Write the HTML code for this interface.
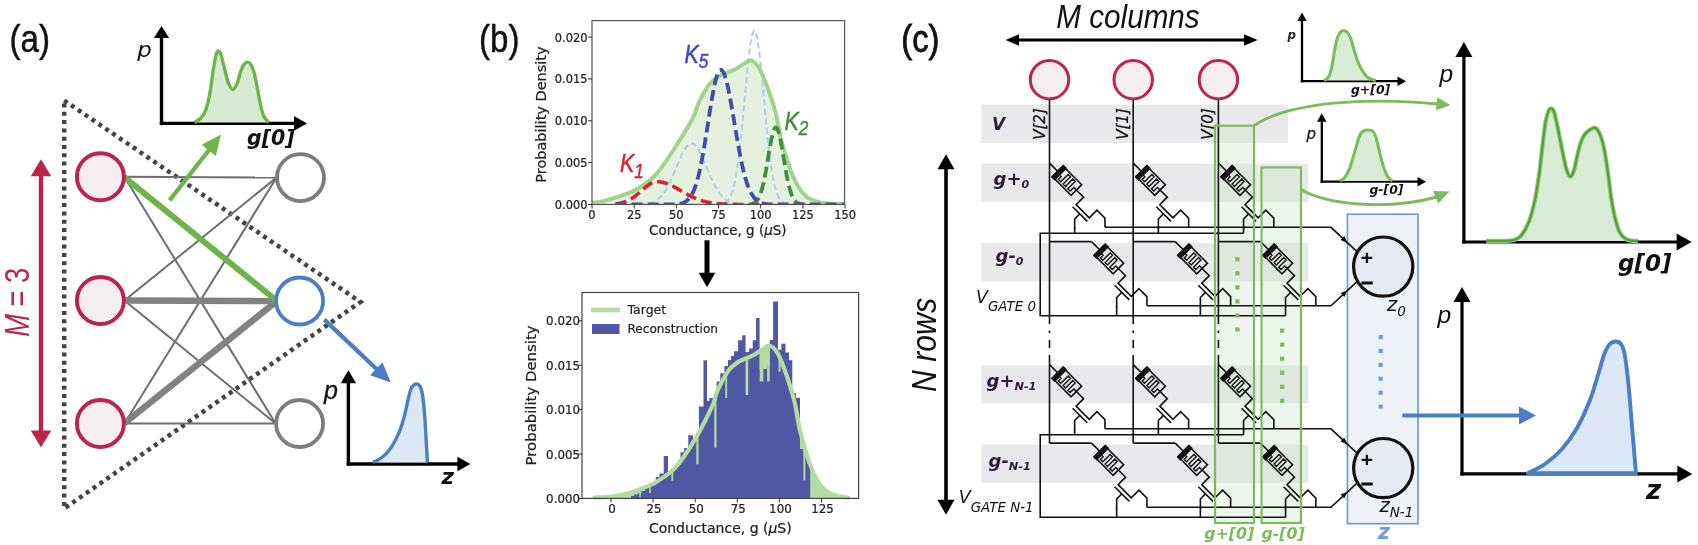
<!DOCTYPE html>
<html><head><meta charset="utf-8"><title>Figure</title>
<style>html,body{margin:0;padding:0;background:#fff;}svg{display:block;filter:blur(0.45px)}</style></head>
<body>
<svg width="1698" height="545" viewBox="0 0 1698 545">
<rect width="1698" height="545" fill="#ffffff"/>
<g id="panelA">
<text transform="translate(9.5,52.4) scale(0.87,1)" font-family="'Liberation Sans',sans-serif" font-size="38" fill="#111" stroke="#111" stroke-width="0.5">(a)</text>
<polygon points="64.2,100.5 360.5,302 64.2,508.5" fill="none" stroke="#444" stroke-width="4.5" stroke-dasharray="4 4.3"/>
<line x1="124.4" y1="176.8" x2="276.5" y2="177.6" stroke="#6e6e6e" stroke-width="2" />
<line x1="124.4" y1="176.8" x2="275.6" y2="301" stroke="#6e6e6e" stroke-width="2" />
<line x1="124.4" y1="176.8" x2="275.6" y2="423.5" stroke="#6e6e6e" stroke-width="2" />
<line x1="124.4" y1="300.5" x2="276.5" y2="177.6" stroke="#6e6e6e" stroke-width="2" />
<line x1="124.4" y1="300.5" x2="275.6" y2="301" stroke="#6e6e6e" stroke-width="2" />
<line x1="124.4" y1="300.5" x2="275.6" y2="423.5" stroke="#6e6e6e" stroke-width="2" />
<line x1="124.4" y1="423.5" x2="276.5" y2="177.6" stroke="#6e6e6e" stroke-width="2" />
<line x1="124.4" y1="423.5" x2="275.6" y2="301" stroke="#6e6e6e" stroke-width="2" />
<line x1="124.4" y1="423.5" x2="275.6" y2="423.5" stroke="#6e6e6e" stroke-width="2" />
<line x1="124" y1="300.5" x2="277" y2="301" stroke="#828282" stroke-width="6.5" />
<line x1="124" y1="423.5" x2="277" y2="301" stroke="#828282" stroke-width="6.5" />
<line x1="124" y1="176.8" x2="277" y2="301" stroke="#6db44c" stroke-width="6" />
<circle cx="100.4" cy="176.8" r="23.5" fill="#f6edf0" stroke="#ba244e" stroke-width="3.9"/>
<circle cx="100.4" cy="300.5" r="23.5" fill="#f6edf0" stroke="#ba244e" stroke-width="3.9"/>
<circle cx="100.4" cy="423.5" r="23.5" fill="#f6edf0" stroke="#ba244e" stroke-width="3.9"/>
<circle cx="300.5" cy="177.6" r="23.5" fill="#fff" stroke="#7d7d7d" stroke-width="3.8"/>
<circle cx="299.6" cy="423.5" r="23.5" fill="#fff" stroke="#7d7d7d" stroke-width="3.8"/>
<circle cx="299.6" cy="301" r="23.5" fill="#fff" stroke="#4a7fc3" stroke-width="3.8"/>
<polygon points="41,159.3 51.25,176.3 30.75,176.3" fill="#ba244e"/><line x1="41" y1="172.9" x2="41" y2="433.8" stroke="#ba244e" stroke-width="4.4" /><polygon points="41,447.4 30.75,430.4 51.25,430.4" fill="#ba244e"/>
<text transform="translate(29.3,302.3) rotate(-90) scale(0.78,1)" text-anchor="middle" font-family="'Liberation Sans',sans-serif" font-size="35" fill="#ba244e"><tspan font-style="italic">M</tspan> = 3</text>
<line x1="169.6" y1="200.4" x2="211.15" y2="147.21" stroke="#6db44c" stroke-width="4.2" /><polygon points="221,134.6 215.78,155.9 201.6,144.82" fill="#6db44c"/>
<line x1="324.3" y1="319.6" x2="379.18" y2="371.51" stroke="#4a7fc3" stroke-width="4.2" /><polygon points="390.8,382.5 370.09,375.3 382.45,362.22" fill="#4a7fc3"/>
<line x1="161.5" y1="125.1" x2="161.5" y2="37" stroke="#000" stroke-width="3.4" />
<polygon points="161.5,26 169.1,38 153.9,38" fill="#000"/>
<line x1="159.8" y1="123.4" x2="296" y2="123.4" stroke="#000" stroke-width="3.4" />
<polygon points="307,123.4 294,130.7 294,116.1" fill="#000"/>
<path d="M194.46,122.51 C195.56,121.74 199.13,120.09 201.06,117.89 C202.98,115.69 204.52,113.49 206.01,109.31 C207.49,105.13 208.76,99.41 209.97,92.81 C211.18,86.21 212.28,75.98 213.27,69.71 C214.26,63.44 215.03,58.32 215.91,55.19 C216.79,52.05 217.67,50.9 218.55,50.9 C219.43,50.9 220.25,52.49 221.19,55.19 C222.12,57.88 222.95,62.45 224.16,67.07 C225.37,71.69 226.96,79.17 228.45,82.91 C229.93,86.65 231.58,89.51 233.07,89.51 C234.55,89.51 236.09,85.93 237.36,82.91 C238.62,79.88 239.56,74.44 240.66,71.36 C241.76,68.28 242.86,65.97 243.96,64.43 C245.06,62.89 246.16,62.17 247.26,62.12 C248.36,62.06 249.46,62.5 250.56,64.1 C251.66,65.69 252.76,67.89 253.86,71.69 C254.96,75.48 256.06,81.37 257.16,86.87 C258.26,92.37 259.36,99.79 260.46,104.69 C261.56,109.59 262.39,113.27 263.76,116.24 C265.14,119.21 267.89,121.47 268.71,122.51 Z" fill="#d7ebd3" stroke="none"/>
<path d="M194.46,122.51 C195.56,121.74 199.13,120.09 201.06,117.89 C202.98,115.69 204.52,113.49 206.01,109.31 C207.49,105.13 208.76,99.41 209.97,92.81 C211.18,86.21 212.28,75.98 213.27,69.71 C214.26,63.44 215.03,58.32 215.91,55.19 C216.79,52.05 217.67,50.9 218.55,50.9 C219.43,50.9 220.25,52.49 221.19,55.19 C222.12,57.88 222.95,62.45 224.16,67.07 C225.37,71.69 226.96,79.17 228.45,82.91 C229.93,86.65 231.58,89.51 233.07,89.51 C234.55,89.51 236.09,85.93 237.36,82.91 C238.62,79.88 239.56,74.44 240.66,71.36 C241.76,68.28 242.86,65.97 243.96,64.43 C245.06,62.89 246.16,62.17 247.26,62.12 C248.36,62.06 249.46,62.5 250.56,64.1 C251.66,65.69 252.76,67.89 253.86,71.69 C254.96,75.48 256.06,81.37 257.16,86.87 C258.26,92.37 259.36,99.79 260.46,104.69 C261.56,109.59 262.39,113.27 263.76,116.24 C265.14,119.21 267.89,121.47 268.71,122.51" fill="none" stroke="#6db44c" stroke-width="3.4" stroke-linejoin="round"/>
<text transform="translate(137.2,56.6) scale(1.12,1)" font-family="'DejaVu Sans',sans-serif" font-style="italic" font-size="20.5" fill="#111">p</text>
<text x="247" y="145" font-family="'DejaVu Sans',sans-serif" font-style="italic" font-weight="bold" font-size="20.5" fill="#111">g[0]</text>
<line x1="348.4" y1="465.7" x2="348.4" y2="382" stroke="#000" stroke-width="3.4" />
<polygon points="348.4,370.2 356.1,383.2 340.7,383.2" fill="#000"/>
<line x1="346.7" y1="464" x2="459" y2="464" stroke="#000" stroke-width="3.4" />
<polygon points="470.4,464 457.4,471.3 457.4,456.7" fill="#000"/>
<path d="M372.94,462.45 C373.86,462 376.61,460.8 378.45,459.7 C380.28,458.6 382.12,457.5 383.95,455.85 C385.79,454.2 387.62,452.27 389.46,449.79 C391.29,447.32 393.13,444.47 394.96,440.98 C396.8,437.5 398.86,433.19 400.47,428.87 C402.07,424.56 403.36,419.84 404.6,415.11 C405.84,410.39 406.89,404.74 407.9,400.52 C408.91,396.3 409.73,392.31 410.65,389.79 C411.57,387.26 412.49,386.35 413.4,385.38 C414.32,384.42 415.29,384.1 416.16,384.01 C417.03,383.92 417.81,384.05 418.63,384.83 C419.46,385.61 420.42,386.76 421.11,388.69 C421.8,390.61 422.26,393.04 422.76,396.39 C423.27,399.74 423.73,404.19 424.14,408.78 C424.55,413.37 424.87,418.18 425.24,423.92 C425.61,429.65 425.97,436.76 426.34,443.19 C426.71,449.61 427.26,459.24 427.44,462.45 Z" fill="#dce8f6" stroke="none"/>
<path d="M372.94,462.45 C373.86,462 376.61,460.8 378.45,459.7 C380.28,458.6 382.12,457.5 383.95,455.85 C385.79,454.2 387.62,452.27 389.46,449.79 C391.29,447.32 393.13,444.47 394.96,440.98 C396.8,437.5 398.86,433.19 400.47,428.87 C402.07,424.56 403.36,419.84 404.6,415.11 C405.84,410.39 406.89,404.74 407.9,400.52 C408.91,396.3 409.73,392.31 410.65,389.79 C411.57,387.26 412.49,386.35 413.4,385.38 C414.32,384.42 415.29,384.1 416.16,384.01 C417.03,383.92 417.81,384.05 418.63,384.83 C419.46,385.61 420.42,386.76 421.11,388.69 C421.8,390.61 422.26,393.04 422.76,396.39 C423.27,399.74 423.73,404.19 424.14,408.78 C424.55,413.37 424.87,418.18 425.24,423.92 C425.61,429.65 425.97,436.76 426.34,443.19 C426.71,449.61 427.26,459.24 427.44,462.45" fill="none" stroke="#4a7fc3" stroke-width="3.4" stroke-linejoin="round"/>
<text x="324" y="399.3" font-family="'Liberation Sans',sans-serif" font-style="italic" font-size="25" fill="#111" stroke="#111" stroke-width="0.3">p</text>
<text x="441.5" y="484.2" font-family="'DejaVu Sans',sans-serif" font-style="italic" font-weight="bold" font-size="21.5" fill="#111">z</text>
</g>
<g id="panelB">
<text transform="translate(479,52.4) scale(0.87,1)" font-family="'Liberation Sans',sans-serif" font-size="38" fill="#111" stroke="#111" stroke-width="0.5">(b)</text>
<clipPath id="clipT"><rect x="592" y="20.6" width="252.6" height="183.9"/></clipPath>
<g clip-path="url(#clipT)">
<path d="M586.94,203.16 C589.27,202.91 595.54,202.77 600.94,201.65 C606.34,200.54 613.2,198.62 619.33,196.46 C625.46,194.31 631.59,192.39 637.72,188.7 C643.85,185.01 649.98,181.04 656.11,174.3 C662.24,167.57 668.36,157.68 674.49,148.29 C680.62,138.9 688.86,125.52 692.88,117.97 C696.9,110.42 695.81,108.66 698.62,102.98 C701.43,97.3 706.07,88.49 709.75,83.87 C713.44,79.25 716.58,77.65 720.72,75.27 C724.85,72.88 730.7,71.47 734.55,69.58 C738.4,67.68 741.07,65.39 743.83,63.88 C746.59,62.38 748.5,59.8 751.08,60.54 C753.67,61.28 756.59,63.79 759.35,68.32 C762.11,72.85 764.86,80.18 767.62,87.74 C770.37,95.3 773.58,104.84 775.88,113.69 C778.19,122.53 779.14,131.76 781.45,140.8 C783.76,149.84 786.99,160.38 789.72,167.92 C792.44,175.47 795.06,181.33 797.81,186.09 C800.57,190.84 803.02,193.87 806.25,196.46 C809.48,199.06 813.28,200.43 817.21,201.65 C821.15,202.88 825.23,203.4 829.87,203.83 C834.51,204.26 842.52,204.18 845.05,204.25 L845.05,204.5 L586.94,204.5 Z" fill="#e3f1de"/>
<path d="M592,204.5 L593.69,204.5 L595.37,204.5 L597.06,204.5 L598.75,204.5 L600.43,204.5 L602.12,204.5 L603.81,204.5 L605.5,204.5 L607.18,204.5 L608.87,204.5 L610.56,204.5 L612.24,204.5 L613.93,204.5 L615.62,204.5 L617.3,204.5 L618.99,204.5 L620.68,204.5 L622.37,204.5 L624.05,204.5 L625.74,204.49 L627.43,204.49 L629.11,204.49 L630.8,204.48 L632.49,204.47 L634.17,204.45 L635.86,204.43 L637.55,204.39 L639.24,204.34 L640.92,204.26 L642.61,204.16 L644.3,204.02 L645.98,203.82 L647.67,203.56 L649.36,203.21 L651.04,202.75 L652.73,202.17 L654.42,201.42 L656.11,200.48 L657.79,199.33 L659.48,197.92 L661.17,196.23 L662.85,194.24 L664.54,191.92 L666.23,189.26 L667.91,186.28 L669.6,182.97 L671.29,179.38 L672.98,175.55 L674.66,171.54 L676.35,167.44 L678.04,163.34 L679.72,159.35 L681.41,155.57 L683.1,152.14 L684.78,149.15 L686.47,146.7 L688.16,144.89 L689.85,143.78 L691.53,143.4 L693.22,143.78 L694.91,144.89 L696.59,146.7 L698.28,149.15 L699.97,152.14 L701.65,155.57 L703.34,159.35 L705.03,163.34 L706.72,167.44 L708.4,171.54 L710.09,175.55 L711.78,179.38 L713.46,182.97 L715.15,186.28 L716.84,189.26 L718.52,191.92 L720.21,194.24 L721.9,196.23 L723.59,197.92 L725.27,199.33 L726.96,200.48 L728.65,201.42 L730.33,202.17 L732.02,202.75 L733.71,203.21 L735.39,203.56 L737.08,203.82 L738.77,204.02 L740.46,204.16 L742.14,204.26 L743.83,204.34 L745.52,204.39 L747.2,204.43 L748.89,204.45 L750.58,204.47 L752.26,204.48 L753.95,204.49 L755.64,204.49 L757.33,204.49 L759.01,204.5 L760.7,204.5 L762.39,204.5 L764.07,204.5 L765.76,204.5 L767.45,204.5 L769.13,204.5 L770.82,204.5 L772.51,204.5 L774.2,204.5 L775.88,204.5 L777.57,204.5 L779.26,204.5 L780.94,204.5 L782.63,204.5 L784.32,204.5 L786,204.5 L787.69,204.5 L789.38,204.5 L791.07,204.5 L792.75,204.5 L794.44,204.5 L796.13,204.5 L797.81,204.5 L799.5,204.5 L801.19,204.5 L802.88,204.5 L804.56,204.5 L806.25,204.5 L807.94,204.5 L809.62,204.5 L811.31,204.5 L813,204.5 L814.68,204.5 L816.37,204.5 L818.06,204.5 L819.75,204.5 L821.43,204.5 L823.12,204.5 L824.81,204.5 L826.49,204.5 L828.18,204.5 L829.87,204.5 L831.55,204.5 L833.24,204.5 L834.93,204.5 L836.62,204.5 L838.3,204.5 L839.99,204.5 L841.68,204.5 L843.36,204.5 L845.05,204.5" fill="none" stroke="#a9cfe9" stroke-width="2.0" stroke-dasharray="6 3.5"/>
<path d="M592,204.5 L593.69,204.5 L595.37,204.5 L597.06,204.5 L598.75,204.5 L600.43,204.5 L602.12,204.5 L603.81,204.5 L605.5,204.5 L607.18,204.5 L608.87,204.5 L610.56,204.5 L612.24,204.5 L613.93,204.5 L615.62,204.5 L617.3,204.5 L618.99,204.5 L620.68,204.5 L622.37,204.5 L624.05,204.5 L625.74,204.5 L627.43,204.5 L629.11,204.5 L630.8,204.5 L632.49,204.5 L634.17,204.5 L635.86,204.5 L637.55,204.5 L639.24,204.5 L640.92,204.5 L642.61,204.5 L644.3,204.5 L645.98,204.5 L647.67,204.5 L649.36,204.5 L651.04,204.5 L652.73,204.5 L654.42,204.5 L656.11,204.5 L657.79,204.5 L659.48,204.5 L661.17,204.5 L662.85,204.5 L664.54,204.5 L666.23,204.5 L667.91,204.5 L669.6,204.5 L671.29,204.5 L672.98,204.5 L674.66,204.5 L676.35,204.5 L678.04,204.5 L679.72,204.5 L681.41,204.5 L683.1,204.5 L684.78,204.5 L686.47,204.5 L688.16,204.5 L689.85,204.5 L691.53,204.5 L693.22,204.5 L694.91,204.5 L696.59,204.5 L698.28,204.5 L699.97,204.5 L701.65,204.5 L703.34,204.5 L705.03,204.5 L706.72,204.5 L708.4,204.5 L710.09,204.5 L711.78,204.49 L713.46,204.48 L715.15,204.46 L716.84,204.41 L718.52,204.33 L720.21,204.17 L721.9,203.9 L723.59,203.44 L725.27,202.67 L726.96,201.43 L728.65,199.53 L730.33,196.68 L732.02,192.58 L733.71,186.88 L735.39,179.24 L737.08,169.39 L738.77,157.17 L740.46,142.64 L742.14,126.1 L743.83,108.14 L745.52,89.67 L747.2,71.79 L748.89,55.79 L750.58,42.9 L752.26,34.22 L753.95,30.51 L755.64,32.11 L757.33,38.87 L759.01,50.19 L760.7,65.09 L762.39,82.38 L764.07,100.76 L765.76,119.04 L767.45,136.24 L769.13,151.63 L770.82,164.79 L772.51,175.58 L774.2,184.07 L775.88,190.51 L777.57,195.21 L779.26,198.52 L780.94,200.76 L782.63,202.24 L784.32,203.17 L786,203.74 L787.69,204.08 L789.38,204.28 L791.07,204.38 L792.75,204.44 L794.44,204.47 L796.13,204.49 L797.81,204.49 L799.5,204.5 L801.19,204.5 L802.88,204.5 L804.56,204.5 L806.25,204.5 L807.94,204.5 L809.62,204.5 L811.31,204.5 L813,204.5 L814.68,204.5 L816.37,204.5 L818.06,204.5 L819.75,204.5 L821.43,204.5 L823.12,204.5 L824.81,204.5 L826.49,204.5 L828.18,204.5 L829.87,204.5 L831.55,204.5 L833.24,204.5 L834.93,204.5 L836.62,204.5 L838.3,204.5 L839.99,204.5 L841.68,204.5 L843.36,204.5 L845.05,204.5" fill="none" stroke="#a9cfe9" stroke-width="2.0" stroke-dasharray="6 3.5"/>
<path d="M586.94,203.16 C589.27,202.91 595.54,202.77 600.94,201.65 C606.34,200.54 613.2,198.62 619.33,196.46 C625.46,194.31 631.59,192.39 637.72,188.7 C643.85,185.01 649.98,181.04 656.11,174.3 C662.24,167.57 668.36,157.68 674.49,148.29 C680.62,138.9 688.86,125.52 692.88,117.97 C696.9,110.42 695.81,108.66 698.62,102.98 C701.43,97.3 706.07,88.49 709.75,83.87 C713.44,79.25 716.58,77.65 720.72,75.27 C724.85,72.88 730.7,71.47 734.55,69.58 C738.4,67.68 741.07,65.39 743.83,63.88 C746.59,62.38 748.5,59.8 751.08,60.54 C753.67,61.28 756.59,63.79 759.35,68.32 C762.11,72.85 764.86,80.18 767.62,87.74 C770.37,95.3 773.58,104.84 775.88,113.69 C778.19,122.53 779.14,131.76 781.45,140.8 C783.76,149.84 786.99,160.38 789.72,167.92 C792.44,175.47 795.06,181.33 797.81,186.09 C800.57,190.84 803.02,193.87 806.25,196.46 C809.48,199.06 813.28,200.43 817.21,201.65 C821.15,202.88 825.23,203.4 829.87,203.83 C834.51,204.26 842.52,204.18 845.05,204.25" fill="none" stroke="#a3d38b" stroke-width="4"/>
<path d="M750.58,204.12 L750.94,204.06 L751.3,203.99 L751.66,203.91 L752.02,203.82 L752.38,203.72 L752.74,203.6 L753.1,203.47 L753.46,203.32 L753.82,203.15 L754.18,202.96 L754.54,202.75 L754.9,202.51 L755.26,202.25 L755.62,201.96 L755.98,201.63 L756.34,201.27 L756.7,200.88 L757.06,200.44 L757.42,199.96 L757.78,199.44 L758.14,198.87 L758.5,198.24 L758.86,197.56 L759.22,196.83 L759.58,196.04 L759.94,195.18 L760.3,194.26 L760.66,193.27 L761.01,192.21 L761.37,191.09 L761.73,189.89 L762.09,188.62 L762.45,187.27 L762.81,185.85 L763.17,184.36 L763.53,182.79 L763.89,181.15 L764.25,179.45 L764.61,177.67 L764.97,175.83 L765.33,173.94 L765.69,171.98 L766.05,169.98 L766.41,167.93 L766.77,165.84 L767.13,163.72 L767.49,161.58 L767.85,159.42 L768.21,157.25 L768.57,155.09 L768.93,152.94 L769.29,150.81 L769.65,148.71 L770.01,146.66 L770.37,144.66 L770.73,142.72 L771.09,140.86 L771.45,139.08 L771.81,137.4 L772.17,135.82 L772.53,134.35 L772.89,133.01 L773.25,131.8 L773.61,130.73 L773.97,129.8 L774.33,129.02 L774.69,128.4 L775.05,127.94 L775.41,127.64 L775.77,127.5 L776.13,127.54 L776.49,127.73 L776.85,128.09 L777.21,128.61 L777.57,129.29 L777.93,130.13 L778.29,131.11 L778.65,132.24 L779.01,133.5 L779.37,134.89 L779.73,136.4 L780.09,138.02 L780.45,139.74 L780.81,141.55 L781.17,143.44 L781.53,145.4 L781.89,147.42 L782.25,149.5 L782.61,151.61 L782.97,153.74 L783.33,155.9 L783.69,158.07 L784.05,160.23 L784.41,162.38 L784.77,164.52 L785.13,166.63 L785.49,168.7 L785.85,170.73 L786.21,172.72 L786.57,174.65 L786.93,176.53 L787.29,178.34 L787.65,180.09 L788.01,181.78 L788.37,183.39 L788.73,184.93 L789.09,186.39 L789.45,187.78 L789.81,189.1 L790.17,190.35 L790.53,191.52 L790.89,192.62 L791.25,193.65 L791.61,194.61 L791.97,195.51 L792.33,196.34 L792.69,197.11 L793.05,197.83 L793.41,198.48 L793.77,199.09 L794.13,199.64 L794.48,200.15 L794.84,200.61 L795.2,201.03 L795.56,201.41 L795.92,201.76 L796.28,202.07 L796.64,202.35 L797,202.6 L797.36,202.83 L797.72,203.03 L798.08,203.21 L798.44,203.37 L798.8,203.52 L799.16,203.64 L799.52,203.76 L799.88,203.86 L800.24,203.94 L800.6,204.02 L800.96,204.08 L801.32,204.14 L801.68,204.19 L802.04,204.24 L802.4,204.28 L802.76,204.31 L803.12,204.34 L803.48,204.36 L803.84,204.38 L804.2,204.4 L804.56,204.42" fill="none" stroke="#3f8f3f" stroke-width="3.8" stroke-dasharray="11 5"/>
<path d="M615.62,203.83 L616.59,203.71 L617.55,203.58 L618.52,203.42 L619.49,203.25 L620.45,203.05 L621.42,202.83 L622.39,202.58 L623.36,202.3 L624.32,202 L625.29,201.65 L626.26,201.28 L627.22,200.87 L628.19,200.42 L629.16,199.94 L630.13,199.41 L631.09,198.85 L632.06,198.25 L633.03,197.61 L634,196.94 L634.96,196.23 L635.93,195.49 L636.9,194.72 L637.86,193.92 L638.83,193.1 L639.8,192.27 L640.77,191.42 L641.73,190.57 L642.7,189.72 L643.67,188.88 L644.63,188.05 L645.6,187.25 L646.57,186.47 L647.54,185.73 L648.5,185.04 L649.47,184.39 L650.44,183.8 L651.4,183.28 L652.37,182.82 L653.34,182.44 L654.31,182.14 L655.27,181.92 L656.24,181.78 L657.21,181.73 L658.18,181.75 L659.14,181.8 L660.11,181.9 L661.08,182.02 L662.04,182.19 L663.01,182.39 L663.98,182.63 L664.95,182.9 L665.91,183.2 L666.88,183.54 L667.85,183.9 L668.81,184.29 L669.78,184.71 L670.75,185.15 L671.72,185.61 L672.68,186.09 L673.65,186.59 L674.62,187.11 L675.59,187.64 L676.55,188.18 L677.52,188.73 L678.49,189.28 L679.45,189.84 L680.42,190.41 L681.39,190.97 L682.36,191.54 L683.32,192.1 L684.29,192.66 L685.26,193.21 L686.22,193.75 L687.19,194.29 L688.16,194.81 L689.13,195.32 L690.09,195.82 L691.06,196.31 L692.03,196.78 L693,197.24 L693.96,197.68 L694.93,198.11 L695.9,198.52 L696.86,198.91 L697.83,199.28 L698.8,199.64 L699.77,199.98 L700.73,200.31 L701.7,200.61 L702.67,200.91 L703.63,201.18 L704.6,201.44 L705.57,201.68 L706.54,201.91 L707.5,202.13 L708.47,202.32 L709.44,202.51 L710.4,202.68 L711.37,202.85 L712.34,203 L713.31,203.13 L714.27,203.26 L715.24,203.38 L716.21,203.49 L717.18,203.59 L718.14,203.68 L719.11,203.76 L720.08,203.84 L721.04,203.9 L722.01,203.97 L722.98,204.02 L723.95,204.08 L724.91,204.12 L725.88,204.16 L726.85,204.2 L727.81,204.24 L728.78,204.27 L729.75,204.29 L730.72,204.32 L731.68,204.34 L732.65,204.36 L733.62,204.38 L734.59,204.39 L735.55,204.41 L736.52,204.42 L737.49,204.43 L738.45,204.44 L739.42,204.45 L740.39,204.45 L741.36,204.46 L742.32,204.47 L743.29,204.47 L744.26,204.47 L745.22,204.48 L746.19,204.48 L747.16,204.48 L748.13,204.49 L749.09,204.49 L750.06,204.49 L751.03,204.49 L752,204.49 L752.96,204.49 L753.93,204.49 L754.9,204.5 L755.86,204.5 L756.83,204.5 L757.8,204.5 L758.77,204.5 L759.73,204.5 L760.7,204.5" fill="none" stroke="#d8232f" stroke-width="3.6" stroke-dasharray="11 5"/>
<path d="M615.62,204.5 L617.15,204.5 L618.68,204.5 L620.21,204.5 L621.74,204.5 L623.27,204.5 L624.8,204.5 L626.32,204.5 L627.85,204.5 L629.38,204.5 L630.91,204.5 L632.44,204.5 L633.97,204.5 L635.5,204.5 L637.03,204.5 L638.56,204.5 L640.09,204.5 L641.62,204.5 L643.15,204.5 L644.68,204.5 L646.21,204.5 L647.74,204.5 L649.27,204.5 L650.8,204.5 L652.33,204.5 L653.86,204.5 L655.39,204.5 L656.92,204.5 L658.45,204.5 L659.97,204.5 L661.5,204.5 L663.03,204.5 L664.56,204.49 L666.09,204.49 L667.62,204.48 L669.15,204.47 L670.68,204.45 L672.21,204.41 L673.74,204.36 L675.27,204.29 L676.8,204.17 L678.33,204.01 L679.86,203.77 L681.39,203.43 L682.92,202.95 L684.45,202.29 L685.98,201.39 L687.51,200.2 L689.04,198.64 L690.57,196.62 L692.1,194.07 L693.62,190.89 L695.15,187 L696.68,182.32 L698.21,176.79 L699.74,170.4 L701.27,163.13 L702.8,155.05 L704.33,146.25 L705.86,136.87 L707.39,127.12 L708.92,117.25 L710.45,107.55 L711.98,98.34 L713.51,89.93 L715.04,82.66 L716.57,76.8 L718.1,72.6 L719.63,70.24 L721.16,69.81 L722.69,71.13 L724.22,74.09 L725.75,78.56 L727.27,84.4 L728.8,91.39 L730.33,99.3 L731.86,107.87 L733.39,116.86 L734.92,125.99 L736.45,135.05 L737.98,143.83 L739.51,152.16 L741.04,159.91 L742.57,166.98 L744.1,173.33 L745.63,178.92 L747.16,183.77 L748.69,187.91 L750.22,191.39 L751.75,194.27 L753.28,196.62 L754.81,198.5 L756.34,199.99 L757.87,201.15 L759.4,202.05 L760.92,202.72 L762.45,203.23 L763.98,203.6 L765.51,203.87 L767.04,204.07 L768.57,204.21 L770.1,204.3 L771.63,204.37 L773.16,204.41 L774.69,204.44 L776.22,204.46 L777.75,204.48 L779.28,204.49 L780.81,204.49 L782.34,204.49 L783.87,204.5 L785.4,204.5 L786.93,204.5 L788.46,204.5 L789.99,204.5 L791.52,204.5 L793.05,204.5 L794.57,204.5 L796.1,204.5 L797.63,204.5 L799.16,204.5 L800.69,204.5 L802.22,204.5 L803.75,204.5 L805.28,204.5 L806.81,204.5 L808.34,204.5 L809.87,204.5 L811.4,204.5 L812.93,204.5 L814.46,204.5 L815.99,204.5 L817.52,204.5 L819.05,204.5 L820.58,204.5 L822.11,204.5 L823.64,204.5 L825.17,204.5 L826.7,204.5 L828.22,204.5 L829.75,204.5 L831.28,204.5 L832.81,204.5 L834.34,204.5 L835.87,204.5 L837.4,204.5 L838.93,204.5 L840.46,204.5 L841.99,204.5 L843.52,204.5 L845.05,204.5" fill="none" stroke="#3e4cb0" stroke-width="3.8" stroke-dasharray="11 5"/>
</g>
<rect x="592" y="20.6" width="252.6" height="183.9" fill="none" stroke="#555" stroke-width="1.2"/>
<line x1="588" y1="204.5" x2="592" y2="204.5" stroke="#333" stroke-width="1" />
<text transform="translate(587.5,209) scale(0.93,1)" text-anchor="end" font-family="'DejaVu Sans',sans-serif" font-size="12.3" fill="#222" stroke="#222" stroke-width="0.25">0.000</text>
<line x1="588" y1="162.65" x2="592" y2="162.65" stroke="#333" stroke-width="1" />
<text transform="translate(587.5,167.15) scale(0.93,1)" text-anchor="end" font-family="'DejaVu Sans',sans-serif" font-size="12.3" fill="#222" stroke="#222" stroke-width="0.25">0.005</text>
<line x1="588" y1="120.8" x2="592" y2="120.8" stroke="#333" stroke-width="1" />
<text transform="translate(587.5,125.3) scale(0.93,1)" text-anchor="end" font-family="'DejaVu Sans',sans-serif" font-size="12.3" fill="#222" stroke="#222" stroke-width="0.25">0.010</text>
<line x1="588" y1="78.95" x2="592" y2="78.95" stroke="#333" stroke-width="1" />
<text transform="translate(587.5,83.45) scale(0.93,1)" text-anchor="end" font-family="'DejaVu Sans',sans-serif" font-size="12.3" fill="#222" stroke="#222" stroke-width="0.25">0.015</text>
<line x1="588" y1="37.1" x2="592" y2="37.1" stroke="#333" stroke-width="1" />
<text transform="translate(587.5,41.6) scale(0.93,1)" text-anchor="end" font-family="'DejaVu Sans',sans-serif" font-size="12.3" fill="#222" stroke="#222" stroke-width="0.25">0.020</text>
<line x1="592" y1="204.5" x2="592" y2="208.5" stroke="#333" stroke-width="1" />
<text transform="translate(592,218.7) scale(0.93,1)" text-anchor="middle" font-family="'DejaVu Sans',sans-serif" font-size="12.3" fill="#222" stroke="#222" stroke-width="0.25">0</text>
<line x1="634.17" y1="204.5" x2="634.17" y2="208.5" stroke="#333" stroke-width="1" />
<text transform="translate(634.17,218.7) scale(0.93,1)" text-anchor="middle" font-family="'DejaVu Sans',sans-serif" font-size="12.3" fill="#222" stroke="#222" stroke-width="0.25">25</text>
<line x1="676.35" y1="204.5" x2="676.35" y2="208.5" stroke="#333" stroke-width="1" />
<text transform="translate(676.35,218.7) scale(0.93,1)" text-anchor="middle" font-family="'DejaVu Sans',sans-serif" font-size="12.3" fill="#222" stroke="#222" stroke-width="0.25">50</text>
<line x1="718.52" y1="204.5" x2="718.52" y2="208.5" stroke="#333" stroke-width="1" />
<text transform="translate(718.52,218.7) scale(0.93,1)" text-anchor="middle" font-family="'DejaVu Sans',sans-serif" font-size="12.3" fill="#222" stroke="#222" stroke-width="0.25">75</text>
<line x1="760.7" y1="204.5" x2="760.7" y2="208.5" stroke="#333" stroke-width="1" />
<text transform="translate(760.7,218.7) scale(0.93,1)" text-anchor="middle" font-family="'DejaVu Sans',sans-serif" font-size="12.3" fill="#222" stroke="#222" stroke-width="0.25">100</text>
<line x1="802.88" y1="204.5" x2="802.88" y2="208.5" stroke="#333" stroke-width="1" />
<text transform="translate(802.88,218.7) scale(0.93,1)" text-anchor="middle" font-family="'DejaVu Sans',sans-serif" font-size="12.3" fill="#222" stroke="#222" stroke-width="0.25">125</text>
<line x1="845.05" y1="204.5" x2="845.05" y2="208.5" stroke="#333" stroke-width="1" />
<text transform="translate(845.05,218.7) scale(0.93,1)" text-anchor="middle" font-family="'DejaVu Sans',sans-serif" font-size="12.3" fill="#222" stroke="#222" stroke-width="0.25">150</text>
<text transform="translate(717.8,234.5) scale(0.93,1)" text-anchor="middle" font-family="'DejaVu Sans',sans-serif" font-size="14.5" fill="#222" stroke="#222" stroke-width="0.25">Conductance, g (<tspan font-style="italic">μ</tspan>S)</text>
<text transform="translate(546,114.55) scale(0.93,1) rotate(-90)" text-anchor="middle" font-family="'DejaVu Sans',sans-serif" font-size="14.5" fill="#222" stroke="#222" stroke-width="0.25">Probability Density</text>
<text x="620" y="172.5" font-family="'Liberation Sans',sans-serif" font-style="italic" font-size="25" fill="#d8232f" stroke="#d8232f" stroke-width="0.5" transform="translate(620,0) scale(0.86,1) translate(-620,0)">K<tspan font-size="20" dy="5.5">1</tspan></text>
<text x="684.5" y="62.8" font-family="'Liberation Sans',sans-serif" font-style="italic" font-size="25" fill="#3e4cb0" stroke="#3e4cb0" stroke-width="0.5" transform="translate(684.5,0) scale(0.86,1) translate(-684.5,0)">K<tspan font-size="20" dy="5.5">5</tspan></text>
<text x="784.5" y="129.6" font-family="'Liberation Sans',sans-serif" font-style="italic" font-size="25" fill="#3f8f3f" stroke="#3f8f3f" stroke-width="0.5" transform="translate(784.5,0) scale(0.86,1) translate(-784.5,0)">K<tspan font-size="20" dy="5.5">2</tspan></text>
<line x1="707" y1="240.3" x2="707" y2="276" stroke="#000" stroke-width="5" />
<polygon points="707,287.2 698.7,272.7 715.3,272.7" fill="#000"/>
<path d="M594.16,497.51 C596.12,497.42 601.65,497.33 605.95,496.98 C610.24,496.62 614.54,496.56 619.93,495.38 C625.31,494.2 632.16,492.15 638.28,489.88 C644.4,487.6 650.52,485.36 656.64,481.71 C662.75,478.05 668.87,474.53 674.99,467.94 C681.11,461.36 687.23,452.3 693.35,442.19 C699.47,432.08 707.69,415.83 711.7,407.29 C715.72,398.75 714.62,397.09 717.43,390.95 C720.24,384.81 724.87,375.38 728.54,370.44 C732.22,365.5 735.36,363.82 739.49,361.29 C743.62,358.76 749.45,357.27 753.3,355.25 C757.14,353.24 759.81,350.81 762.56,349.22 C765.31,347.62 767.22,344.88 769.8,345.66 C772.38,346.45 775.3,349.11 778.05,353.92 C780.8,358.73 783.55,366.5 786.3,374.52 C789.05,382.55 792.25,392.67 794.56,402.05 C796.86,411.44 797.81,421.23 800.11,430.82 C802.41,440.41 805.64,451.59 808.36,459.59 C811.09,467.6 813.7,473.82 816.45,478.86 C819.2,483.91 821.64,487.12 824.87,489.88 C828.1,492.63 831.88,494.08 835.81,495.38 C839.74,496.68 846.34,497.3 848.44,497.69 L848.44,498.4 L594.16,498.4 Z" fill="#b4dba0"/>
<path d="M631,498.4 L631,496 L634,496 L634,494.5 L638,494.5 L638,493 L641.5,493 L641.5,491 L645,491 L645,488 L648.5,488 L648.5,486 L652,486 L652,482 L655.8,482 L655.8,477 L659.4,477 L659.4,473.4 L663.7,473.4 L663.7,456 L668,456 L668,474 L671.5,474 L671.5,470 L675,470 L675,466 L678,466 L678,460 L680.5,460 L680.5,452.3 L684.2,452.3 L684.2,448 L688.3,448 L688.3,435.2 L693,435.2 L693,440 L696,440 L696,436 L698.9,436 L698.9,406.4 L703.5,406.4 L703.5,360.2 L707,360.2 L707,401 L709.3,401 L709.3,398 L713,398 L713,398 L716.7,398 L716.7,381.4 L720.3,381.4 L720.3,373.2 L724.4,373.2 L724.4,366 L728,366 L728,360 L731,360 L731,356 L734,356 L734,351.2 L738.1,351.2 L738.1,340.2 L742.3,340.2 L742.3,335.2 L745.6,335.2 L745.6,352 L749.1,352 L749.1,348.4 L752.7,348.4 L752.7,340.2 L756,340.2 L756,318.1 L759.6,318.1 L759.6,369 L763.7,369 L763.7,369 L767,369 L767,366 L769.8,366 L769.8,340 L773.1,340 L773.1,301.6 L778,301.6 L778,349.8 L781.3,349.8 L781.3,343.7 L785.5,343.7 L785.5,352.5 L789,352.5 L789,360.2 L792.3,360.2 L792.3,393 L796,393 L796,397.8 L800,397.8 L800,449 L803.5,449 L803.5,455 L807,455 L807,463.8 L810.2,463.8 L810.2,498.4 Z" fill="#5058a6"/>
<rect x="671.4" y="469.96" width="1.8" height="10.74" fill="#b4dba0"/>
<rect x="696.3" y="434.49" width="2.2" height="29.71" fill="#b4dba0"/>
<rect x="714.3" y="396.74" width="2.2" height="50.96" fill="#b4dba0"/>
<rect x="745.6" y="358.05" width="2.6" height="36.95" fill="#b4dba0"/>
<rect x="759.7" y="349.91" width="3.6" height="31.49" fill="#b4dba0"/>
<rect x="767.1" y="346.35" width="2.6" height="35.05" fill="#b4dba0"/>
<rect x="778.6" y="357.79" width="2" height="14.01" fill="#b4dba0"/>
<rect x="803.4" y="445.77" width="2" height="34.53" fill="#b4dba0"/>
<rect x="639.2" y="489.11" width="1.6" height="7.89" fill="#b4dba0"/>
<rect x="649.2" y="484.66" width="1.6" height="8.34" fill="#b4dba0"/>
<rect x="725.3" y="374.76" width="1.8" height="23.24" fill="#b4dba0"/>
<rect x="789.7" y="388.52" width="1.6" height="-16.52" fill="#b4dba0"/>
<path d="M594.16,497.51 C596.12,497.42 601.65,497.33 605.95,496.98 C610.24,496.62 614.54,496.56 619.93,495.38 C625.31,494.2 632.16,492.15 638.28,489.88 C644.4,487.6 650.52,485.36 656.64,481.71 C662.75,478.05 668.87,474.53 674.99,467.94 C681.11,461.36 687.23,452.3 693.35,442.19 C699.47,432.08 707.69,415.83 711.7,407.29 C715.72,398.75 714.62,397.09 717.43,390.95 C720.24,384.81 724.87,375.38 728.54,370.44 C732.22,365.5 735.36,363.82 739.49,361.29 C743.62,358.76 749.45,357.27 753.3,355.25 C757.14,353.24 759.81,350.81 762.56,349.22 C765.31,347.62 767.22,344.88 769.8,345.66 C772.38,346.45 775.3,349.11 778.05,353.92 C780.8,358.73 783.55,366.5 786.3,374.52 C789.05,382.55 792.25,392.67 794.56,402.05 C796.86,411.44 797.81,421.23 800.11,430.82 C802.41,440.41 805.64,451.59 808.36,459.59 C811.09,467.6 813.7,473.82 816.45,478.86 C819.2,483.91 821.64,487.12 824.87,489.88 C828.1,492.63 831.88,494.08 835.81,495.38 C839.74,496.68 846.34,497.3 848.44,497.69" fill="none" stroke="#b4dba0" stroke-width="4.2" stroke-linecap="round"/>
<rect x="582" y="292.5" width="276.6" height="205.9" fill="none" stroke="#444" stroke-width="1.2"/>
<line x1="578" y1="498.4" x2="582" y2="498.4" stroke="#333" stroke-width="1" />
<text transform="translate(580,502.9) scale(0.94,1)" text-anchor="end" font-family="'DejaVu Sans',sans-serif" font-size="12.6" fill="#222" stroke="#222" stroke-width="0.25">0.000</text>
<line x1="578" y1="454" x2="582" y2="454" stroke="#333" stroke-width="1" />
<text transform="translate(580,458.5) scale(0.94,1)" text-anchor="end" font-family="'DejaVu Sans',sans-serif" font-size="12.6" fill="#222" stroke="#222" stroke-width="0.25">0.005</text>
<line x1="578" y1="409.6" x2="582" y2="409.6" stroke="#333" stroke-width="1" />
<text transform="translate(580,414.1) scale(0.94,1)" text-anchor="end" font-family="'DejaVu Sans',sans-serif" font-size="12.6" fill="#222" stroke="#222" stroke-width="0.25">0.010</text>
<line x1="578" y1="365.2" x2="582" y2="365.2" stroke="#333" stroke-width="1" />
<text transform="translate(580,369.7) scale(0.94,1)" text-anchor="end" font-family="'DejaVu Sans',sans-serif" font-size="12.6" fill="#222" stroke="#222" stroke-width="0.25">0.015</text>
<line x1="578" y1="320.8" x2="582" y2="320.8" stroke="#333" stroke-width="1" />
<text transform="translate(580,325.3) scale(0.94,1)" text-anchor="end" font-family="'DejaVu Sans',sans-serif" font-size="12.6" fill="#222" stroke="#222" stroke-width="0.25">0.020</text>
<line x1="611" y1="498.4" x2="611" y2="502.4" stroke="#333" stroke-width="1" />
<text transform="translate(612,512.6) scale(0.94,1)" text-anchor="middle" font-family="'DejaVu Sans',sans-serif" font-size="12.6" fill="#222" stroke="#222" stroke-width="0.25">0</text>
<line x1="653.1" y1="498.4" x2="653.1" y2="502.4" stroke="#333" stroke-width="1" />
<text transform="translate(654.1,512.6) scale(0.94,1)" text-anchor="middle" font-family="'DejaVu Sans',sans-serif" font-size="12.6" fill="#222" stroke="#222" stroke-width="0.25">25</text>
<line x1="695.2" y1="498.4" x2="695.2" y2="502.4" stroke="#333" stroke-width="1" />
<text transform="translate(696.2,512.6) scale(0.94,1)" text-anchor="middle" font-family="'DejaVu Sans',sans-serif" font-size="12.6" fill="#222" stroke="#222" stroke-width="0.25">50</text>
<line x1="737.3" y1="498.4" x2="737.3" y2="502.4" stroke="#333" stroke-width="1" />
<text transform="translate(738.3,512.6) scale(0.94,1)" text-anchor="middle" font-family="'DejaVu Sans',sans-serif" font-size="12.6" fill="#222" stroke="#222" stroke-width="0.25">75</text>
<line x1="779.4" y1="498.4" x2="779.4" y2="502.4" stroke="#333" stroke-width="1" />
<text transform="translate(780.4,512.6) scale(0.94,1)" text-anchor="middle" font-family="'DejaVu Sans',sans-serif" font-size="12.6" fill="#222" stroke="#222" stroke-width="0.25">100</text>
<line x1="821.5" y1="498.4" x2="821.5" y2="502.4" stroke="#333" stroke-width="1" />
<text transform="translate(822.5,512.6) scale(0.94,1)" text-anchor="middle" font-family="'DejaVu Sans',sans-serif" font-size="12.6" fill="#222" stroke="#222" stroke-width="0.25">125</text>
<text transform="translate(720.3,532.8) scale(0.94,1)" text-anchor="middle" font-family="'DejaVu Sans',sans-serif" font-size="14.9" fill="#222" stroke="#222" stroke-width="0.25">Conductance, g (<tspan font-style="italic">μ</tspan>S)</text>
<text transform="translate(536,395.45) scale(0.94,1) rotate(-90)" text-anchor="middle" font-family="'DejaVu Sans',sans-serif" font-size="14.9" fill="#222" stroke="#222" stroke-width="0.25">Probability Density</text>
<line x1="591" y1="310" x2="620" y2="310" stroke="#b4dba0" stroke-width="4.6" />
<text x="627.5" y="313.6" font-family="'DejaVu Sans',sans-serif" font-size="12.5" fill="#222" stroke="#222" stroke-width="0.2">Target</text>
<rect x="592" y="324" width="27.5" height="10" fill="#5058a6"/>
<text x="627.5" y="332.6" font-family="'DejaVu Sans',sans-serif" font-size="12.1" fill="#222" stroke="#222" stroke-width="0.2">Reconstruction</text>
</g>
<defs><g id="cell" fill="none" stroke="#111" stroke-width="1.6" stroke-linejoin="miter">
<path d="M0,0 L8.2,8.2"/>
<path d="M13.51,2.9 L32.17,21.57 L21.57,32.17 L2.9,13.51 Z"/>
<path d="M13.86,2.55 L16.55,5.23 L5.23,16.55 L2.55,13.86 Z" fill="#111"/>
<path d="M9.83,11.95 L11.6,13.72 L8.98,16.33 L11.31,18.67 L18.67,11.31 L21,13.65 L13.65,21 L15.98,23.33 L23.33,15.98 L25.67,18.31 L18.31,25.67 L20.65,28 L24.32,24.32 L26.87,26.87" stroke-width="1.4"/>
<path d="M26.87,26.87 L34.08,34.08 L26.59,41.58 L39.74,54.73 L47.45,47.02 L55.44,55.01 L55.44,64.2"/>
<path d="M23.12,43.63 L37.83,58.34"/>
<path d="M30.26,50.77 L25.17,55.86 L25.17,66"/>
</g></defs>
<g id="panelC">
<text transform="translate(901.3,51.6) scale(0.86,1)" font-family="'Liberation Sans',sans-serif" font-size="38" fill="#111" stroke="#111" stroke-width="0.9">(c)</text>
<text x="1128" y="27.5" text-anchor="middle" font-family="'Liberation Sans',sans-serif" font-style="italic" font-size="33.5" fill="#111" transform="translate(1128,0) scale(0.885,1) translate(-1128,0)">M columns</text>
<polygon points="1005.5,40 1019,34.25 1019,45.75" fill="#000"/><line x1="1016.3" y1="40" x2="1246.7" y2="40" stroke="#000" stroke-width="3.2" /><polygon points="1257.5,40 1244,45.75 1244,34.25" fill="#000"/>
<rect x="981.3" y="104.5" width="306.7" height="38.5" fill="#e9e8ea"/>
<rect x="981.5" y="163.6" width="326.5" height="38.4" fill="#e9e8ea"/>
<rect x="981.5" y="242.8" width="326.5" height="38.7" fill="#e9e8ea"/>
<rect x="981.5" y="365.4" width="326.5" height="37.9" fill="#e9e8ea"/>
<rect x="981.5" y="444.5" width="326.5" height="38.5" fill="#e9e8ea"/>
<rect x="1215" y="125.7" width="39" height="397.3" fill="rgba(205,232,205,0.38)"/>
<rect x="1261.5" y="167.4" width="39.5" height="355.6" fill="rgba(205,232,205,0.38)"/>
<rect x="1347.4" y="214.2" width="70.6" height="309.5" fill="#edf2f9" stroke="#6d9ed8" stroke-width="1.7"/>
<polygon points="946,154.2 954.5,169.2 937.5,169.2" fill="#000"/><line x1="946" y1="166.2" x2="946" y2="502.7" stroke="#000" stroke-width="3.6" /><polygon points="946,514.7 937.5,499.7 954.5,499.7" fill="#000"/>
<text transform="translate(936,345) rotate(-90) scale(0.84,1)" text-anchor="middle" font-family="'Liberation Sans',sans-serif" font-style="italic" font-size="36" fill="#111">N rows</text>
<line x1="1049.5" y1="99" x2="1049.5" y2="324" stroke="#111" stroke-width="1.6" />
<line x1="1049.5" y1="330.5" x2="1049.5" y2="333" stroke="#111" stroke-width="1.6" />
<line x1="1049.5" y1="340" x2="1049.5" y2="348" stroke="#111" stroke-width="1.6" />
<line x1="1049.5" y1="355" x2="1049.5" y2="443.1" stroke="#111" stroke-width="1.6" />
<circle cx="1049.5" cy="79.7" r="19.2" fill="#f6edf0" stroke="#bf2350" stroke-width="3"/>
<text transform="translate(1044.5,124) rotate(-90)" text-anchor="middle" font-family="'DejaVu Sans',sans-serif" font-style="italic" font-size="15" fill="#111" stroke="#111" stroke-width="0.3">V[2]</text>
<line x1="1133.2" y1="99" x2="1133.2" y2="324" stroke="#111" stroke-width="1.6" />
<line x1="1133.2" y1="330.5" x2="1133.2" y2="333" stroke="#111" stroke-width="1.6" />
<line x1="1133.2" y1="340" x2="1133.2" y2="348" stroke="#111" stroke-width="1.6" />
<line x1="1133.2" y1="355" x2="1133.2" y2="443.1" stroke="#111" stroke-width="1.6" />
<circle cx="1133.2" cy="79.7" r="19.2" fill="#f6edf0" stroke="#bf2350" stroke-width="3"/>
<text transform="translate(1128.2,124) rotate(-90)" text-anchor="middle" font-family="'DejaVu Sans',sans-serif" font-style="italic" font-size="15" fill="#111" stroke="#111" stroke-width="0.3">V[1]</text>
<line x1="1218.4" y1="99" x2="1218.4" y2="324" stroke="#111" stroke-width="1.6" />
<line x1="1218.4" y1="330.5" x2="1218.4" y2="333" stroke="#111" stroke-width="1.6" />
<line x1="1218.4" y1="340" x2="1218.4" y2="348" stroke="#111" stroke-width="1.6" />
<line x1="1218.4" y1="355" x2="1218.4" y2="443.1" stroke="#111" stroke-width="1.6" />
<circle cx="1218.4" cy="79.7" r="19.2" fill="#f6edf0" stroke="#bf2350" stroke-width="3"/>
<text transform="translate(1213.4,124) rotate(-90)" text-anchor="middle" font-family="'DejaVu Sans',sans-serif" font-style="italic" font-size="15" fill="#111" stroke="#111" stroke-width="0.3">V[0]</text>
<path d="M1243.57,233.3 L1040.2,233.3 L1040.2,315.8 L1285.57,315.8" fill="none" stroke="#111" stroke-width="1.6"/>
<use href="#cell" x="1049.5" y="163.1"/>
<line x1="1074.67" y1="228.1" x2="1074.67" y2="233.3" stroke="#111" stroke-width="1.6" />
<line x1="1049.5" y1="241.6" x2="1091.5" y2="241.6" stroke="#111" stroke-width="1.6" />
<use href="#cell" x="1091.5" y="241.6"/>
<line x1="1116.67" y1="306.6" x2="1116.67" y2="315.8" stroke="#111" stroke-width="1.6" />
<use href="#cell" x="1133.2" y="163.1"/>
<line x1="1158.37" y1="228.1" x2="1158.37" y2="233.3" stroke="#111" stroke-width="1.6" />
<line x1="1133.2" y1="241.6" x2="1175.2" y2="241.6" stroke="#111" stroke-width="1.6" />
<use href="#cell" x="1175.2" y="241.6"/>
<line x1="1200.37" y1="306.6" x2="1200.37" y2="315.8" stroke="#111" stroke-width="1.6" />
<use href="#cell" x="1218.4" y="163.1"/>
<line x1="1243.57" y1="228.1" x2="1243.57" y2="233.3" stroke="#111" stroke-width="1.6" />
<line x1="1218.4" y1="241.6" x2="1260.4" y2="241.6" stroke="#111" stroke-width="1.6" />
<use href="#cell" x="1260.4" y="241.6"/>
<line x1="1285.57" y1="306.6" x2="1285.57" y2="315.8" stroke="#111" stroke-width="1.6" />
<path d="M1104.94,227.3 L1331,227.3 L1357,251.6" fill="none" stroke="#111" stroke-width="1.6"/>
<path d="M1146.94,305.8 L1331,305.8 L1357,281.6" fill="none" stroke="#111" stroke-width="1.6"/>
<polygon points="1347.5,242.9 1340.53,240.07 1344.32,236.09" fill="#111"/>
<polygon points="1347.5,290.2 1344.32,297.01 1340.53,293.03" fill="#111"/>
<circle cx="1383.2" cy="266.6" r="29.6" fill="#e6ebf3" stroke="#111" stroke-width="3.2"/>
<text x="1367" y="265.1" text-anchor="middle" font-family="'Liberation Sans',sans-serif" font-weight="bold" font-size="21" fill="#111">+</text>
<text x="1367" y="287.6" text-anchor="middle" font-family="'Liberation Sans',sans-serif" font-weight="bold" font-size="21" fill="#111" stroke="#111" stroke-width="0.8">–</text>
<path d="M1243.57,434.8 L1040.2,434.8 L1040.2,517.3 L1285.57,517.3" fill="none" stroke="#111" stroke-width="1.6"/>
<use href="#cell" x="1049.5" y="364.6"/>
<line x1="1074.67" y1="429.6" x2="1074.67" y2="434.8" stroke="#111" stroke-width="1.6" />
<line x1="1049.5" y1="443.1" x2="1091.5" y2="443.1" stroke="#111" stroke-width="1.6" />
<use href="#cell" x="1091.5" y="443.1"/>
<line x1="1116.67" y1="508.1" x2="1116.67" y2="517.3" stroke="#111" stroke-width="1.6" />
<use href="#cell" x="1133.2" y="364.6"/>
<line x1="1158.37" y1="429.6" x2="1158.37" y2="434.8" stroke="#111" stroke-width="1.6" />
<line x1="1133.2" y1="443.1" x2="1175.2" y2="443.1" stroke="#111" stroke-width="1.6" />
<use href="#cell" x="1175.2" y="443.1"/>
<line x1="1200.37" y1="508.1" x2="1200.37" y2="517.3" stroke="#111" stroke-width="1.6" />
<use href="#cell" x="1218.4" y="364.6"/>
<line x1="1243.57" y1="429.6" x2="1243.57" y2="434.8" stroke="#111" stroke-width="1.6" />
<line x1="1218.4" y1="443.1" x2="1260.4" y2="443.1" stroke="#111" stroke-width="1.6" />
<use href="#cell" x="1260.4" y="443.1"/>
<line x1="1285.57" y1="508.1" x2="1285.57" y2="517.3" stroke="#111" stroke-width="1.6" />
<path d="M1104.94,428.8 L1331,428.8 L1357,453.1" fill="none" stroke="#111" stroke-width="1.6"/>
<path d="M1146.94,507.3 L1331,507.3 L1357,483.1" fill="none" stroke="#111" stroke-width="1.6"/>
<polygon points="1347.5,444.4 1340.53,441.57 1344.32,437.59" fill="#111"/>
<polygon points="1347.5,491.7 1344.32,498.51 1340.53,494.53" fill="#111"/>
<circle cx="1383.2" cy="468.1" r="29.6" fill="#e6ebf3" stroke="#111" stroke-width="3.2"/>
<text x="1367" y="466.6" text-anchor="middle" font-family="'Liberation Sans',sans-serif" font-weight="bold" font-size="21" fill="#111">+</text>
<text x="1367" y="489.1" text-anchor="middle" font-family="'Liberation Sans',sans-serif" font-weight="bold" font-size="21" fill="#111" stroke="#111" stroke-width="0.8">–</text>
<rect x="1215" y="125.7" width="39" height="397.3" fill="none" stroke="#7cbd5b" stroke-width="2.2"/>
<rect x="1261.5" y="167.4" width="39.5" height="355.6" fill="none" stroke="#7cbd5b" stroke-width="2.2"/>
<rect x="1235.3" y="257.2" width="4.2" height="4.2" fill="#7cbd5b"/>
<rect x="1280" y="328.5" width="4.2" height="4.2" fill="#7cbd5b"/>
<rect x="1378.6" y="335" width="4.2" height="4.2" fill="#6d9ed8"/>
<rect x="1235.3" y="271.25" width="4.2" height="4.2" fill="#7cbd5b"/>
<rect x="1280" y="342.55" width="4.2" height="4.2" fill="#7cbd5b"/>
<rect x="1378.6" y="348.9" width="4.2" height="4.2" fill="#6d9ed8"/>
<rect x="1235.3" y="285.3" width="4.2" height="4.2" fill="#7cbd5b"/>
<rect x="1280" y="356.6" width="4.2" height="4.2" fill="#7cbd5b"/>
<rect x="1378.6" y="362.8" width="4.2" height="4.2" fill="#6d9ed8"/>
<rect x="1235.3" y="299.35" width="4.2" height="4.2" fill="#7cbd5b"/>
<rect x="1280" y="370.65" width="4.2" height="4.2" fill="#7cbd5b"/>
<rect x="1378.6" y="376.7" width="4.2" height="4.2" fill="#6d9ed8"/>
<rect x="1235.3" y="313.4" width="4.2" height="4.2" fill="#7cbd5b"/>
<rect x="1280" y="384.7" width="4.2" height="4.2" fill="#7cbd5b"/>
<rect x="1378.6" y="390.6" width="4.2" height="4.2" fill="#6d9ed8"/>
<rect x="1235.3" y="327.45" width="4.2" height="4.2" fill="#7cbd5b"/>
<rect x="1280" y="398.75" width="4.2" height="4.2" fill="#7cbd5b"/>
<rect x="1378.6" y="404.5" width="4.2" height="4.2" fill="#6d9ed8"/>
<path d="M1254,125.7 C1290,101 1370,97.5 1439,104" fill="none" stroke="#7cbd5b" stroke-width="2.9"/>
<polygon points="1450.5,105.2 1435.92,110.27 1437.22,97.34" fill="#7cbd5b"/>
<path d="M1301,189.5 C1325,204 1385,211 1437,197" fill="none" stroke="#7cbd5b" stroke-width="2.9"/>
<polygon points="1449.5,191.5 1438.28,203.53 1433.06,191.09" fill="#7cbd5b"/>
<text x="992" y="129.5" font-family="'DejaVu Sans',sans-serif" font-style="italic" font-weight="bold" font-size="17" fill="#2b1a3c">V</text>
<text x="993.5" y="185" font-family="'DejaVu Sans',sans-serif" font-style="italic" font-weight="bold" font-size="18" fill="#2b1a3c">g+<tspan font-size="11" dy="3">0</tspan></text>
<text x="995.5" y="261.5" font-family="'DejaVu Sans',sans-serif" font-style="italic" font-weight="bold" font-size="18" fill="#2b1a3c">g-<tspan font-size="11" dy="3">0</tspan></text>
<text x="986.5" y="386.5" font-family="'DejaVu Sans',sans-serif" font-style="italic" font-weight="bold" font-size="18" fill="#2b1a3c">g+<tspan font-size="11.3" dy="3">N-1</tspan></text>
<text x="988.5" y="467" font-family="'DejaVu Sans',sans-serif" font-style="italic" font-weight="bold" font-size="18" fill="#2b1a3c">g-<tspan font-size="11.3" dy="3">N-1</tspan></text>
<text x="976" y="302.8" font-family="'DejaVu Sans',sans-serif" font-style="italic" font-size="17.5" fill="#111">V<tspan font-size="13.4" dy="8.6">GATE 0</tspan></text>
<text x="958.7" y="503" font-family="'DejaVu Sans',sans-serif" font-style="italic" font-size="17.5" fill="#111">V<tspan font-size="13.4" dy="8.6">GATE N-1</tspan></text>
<text x="1387" y="311" font-family="'DejaVu Sans',sans-serif" font-style="italic" font-size="19.5" fill="#111">z<tspan font-size="13.5" dy="4.5">0</tspan></text>
<text x="1379.5" y="512" font-family="'DejaVu Sans',sans-serif" font-style="italic" font-size="19.5" fill="#111">z<tspan font-size="13.5" dy="4.5">N-1</tspan></text>
<text x="1204.3" y="538.5" font-family="'DejaVu Sans',sans-serif" font-style="italic" font-weight="bold" font-size="15.8" fill="#7cbd5b">g+[0]</text>
<text x="1261.5" y="538.5" font-family="'DejaVu Sans',sans-serif" font-style="italic" font-weight="bold" font-size="15.8" fill="#7cbd5b">g-[0]</text>
<text x="1384" y="538.5" text-anchor="middle" font-family="'DejaVu Sans',sans-serif" font-style="italic" font-weight="bold" font-size="20.5" fill="#6d9ed8">z</text>
<line x1="1302" y1="82.35" x2="1302" y2="19.2" stroke="#000" stroke-width="2.3" /><polygon points="1302,12.4 1306.75,20.9 1297.25,20.9" fill="#000"/><line x1="1300.85" y1="81.2" x2="1399.2" y2="81.2" stroke="#000" stroke-width="2.3" /><polygon points="1406,81.2 1397.5,85.95 1397.5,76.45" fill="#000"/>
<path d="M1324.04,80.53 C1324.59,80.16 1326.36,79.4 1327.34,78.33 C1328.32,77.26 1329.08,76.49 1329.91,74.11 C1330.73,71.72 1331.44,68.39 1332.29,64.02 C1333.15,59.64 1334.13,52.39 1335.05,47.87 C1335.96,43.34 1336.88,39.49 1337.8,36.86 C1338.72,34.23 1339.54,33.16 1340.55,32.09 C1341.56,31.02 1342.69,30.38 1343.85,30.44 C1345.02,30.5 1346.39,31.14 1347.52,32.46 C1348.65,33.77 1349.66,35.82 1350.64,38.33 C1351.62,40.84 1352.32,43.99 1353.39,47.5 C1354.46,51.02 1355.69,55.76 1357.06,59.43 C1358.44,63.1 1359.97,66.61 1361.65,69.52 C1363.33,72.43 1365.47,75.21 1367.16,76.86 C1368.84,78.51 1370.31,78.82 1371.74,79.43 C1373.18,80.04 1375.11,80.35 1375.78,80.53 Z" fill="#d7ebd6"/>
<path d="M1324.04,80.53 C1324.59,80.16 1326.36,79.4 1327.34,78.33 C1328.32,77.26 1329.08,76.49 1329.91,74.11 C1330.73,71.72 1331.44,68.39 1332.29,64.02 C1333.15,59.64 1334.13,52.39 1335.05,47.87 C1335.96,43.34 1336.88,39.49 1337.8,36.86 C1338.72,34.23 1339.54,33.16 1340.55,32.09 C1341.56,31.02 1342.69,30.38 1343.85,30.44 C1345.02,30.5 1346.39,31.14 1347.52,32.46 C1348.65,33.77 1349.66,35.82 1350.64,38.33 C1351.62,40.84 1352.32,43.99 1353.39,47.5 C1354.46,51.02 1355.69,55.76 1357.06,59.43 C1358.44,63.1 1359.97,66.61 1361.65,69.52 C1363.33,72.43 1365.47,75.21 1367.16,76.86 C1368.84,78.51 1370.31,78.82 1371.74,79.43 C1373.18,80.04 1375.11,80.35 1375.78,80.53" fill="none" stroke="#7cbd5b" stroke-width="3.1"/>
<text x="1287.5" y="38.6" font-family="'DejaVu Sans',sans-serif" font-style="italic" font-weight="bold" font-size="11.8" fill="#222">p</text>
<text x="1351" y="93.5" font-family="'DejaVu Sans',sans-serif" font-style="italic" font-weight="bold" font-size="12.4" fill="#111">g+[0]</text>
<line x1="1321.8" y1="182.85" x2="1321.8" y2="120" stroke="#000" stroke-width="2.3" /><polygon points="1321.8,113.2 1326.55,121.7 1317.05,121.7" fill="#000"/><line x1="1320.65" y1="181.7" x2="1419.2" y2="181.7" stroke="#000" stroke-width="2.3" /><polygon points="1426,181.7 1417.5,186.45 1417.5,176.95" fill="#000"/>
<path d="M1339.95,180.9 C1340.72,180.38 1343.01,179.67 1344.54,177.78 C1346.07,175.88 1347.75,172.73 1349.13,169.52 C1350.5,166.31 1351.57,162.49 1352.8,158.51 C1354.02,154.54 1355.34,149.49 1356.47,145.67 C1357.6,141.84 1358.46,137.99 1359.59,135.58 C1360.72,133.16 1361.79,132.09 1363.26,131.17 C1364.72,130.25 1366.77,130.04 1368.39,130.07 C1370.02,130.1 1371.76,130.28 1372.98,131.36 C1374.2,132.43 1374.82,133.8 1375.73,136.49 C1376.65,139.18 1377.42,143.22 1378.49,147.5 C1379.56,151.78 1380.93,157.9 1382.16,162.18 C1383.38,166.46 1384.6,170.41 1385.83,173.19 C1387.05,175.97 1388.36,177.59 1389.5,178.88 C1390.63,180.16 1392.09,180.56 1392.61,180.9 Z" fill="#d7ebd6"/>
<path d="M1339.95,180.9 C1340.72,180.38 1343.01,179.67 1344.54,177.78 C1346.07,175.88 1347.75,172.73 1349.13,169.52 C1350.5,166.31 1351.57,162.49 1352.8,158.51 C1354.02,154.54 1355.34,149.49 1356.47,145.67 C1357.6,141.84 1358.46,137.99 1359.59,135.58 C1360.72,133.16 1361.79,132.09 1363.26,131.17 C1364.72,130.25 1366.77,130.04 1368.39,130.07 C1370.02,130.1 1371.76,130.28 1372.98,131.36 C1374.2,132.43 1374.82,133.8 1375.73,136.49 C1376.65,139.18 1377.42,143.22 1378.49,147.5 C1379.56,151.78 1380.93,157.9 1382.16,162.18 C1383.38,166.46 1384.6,170.41 1385.83,173.19 C1387.05,175.97 1388.36,177.59 1389.5,178.88 C1390.63,180.16 1392.09,180.56 1392.61,180.9" fill="none" stroke="#7cbd5b" stroke-width="3.1"/>
<text x="1306.5" y="138.5" font-family="'DejaVu Sans',sans-serif" font-style="italic" font-size="15" fill="#222" stroke="#222" stroke-width="0.3">p</text>
<text x="1369.5" y="194.4" font-family="'DejaVu Sans',sans-serif" font-style="italic" font-weight="bold" font-size="12.4" fill="#111">g-[0]</text>
<line x1="1463.9" y1="243.6" x2="1463.9" y2="54" stroke="#000" stroke-width="3.2" /><polygon points="1463.9,42 1472.4,57 1455.4,57" fill="#000"/><line x1="1462.3" y1="242" x2="1679.6" y2="242" stroke="#000" stroke-width="3.2" /><polygon points="1691.6,242 1676.6,250.5 1676.6,233.5" fill="#000"/>
<path d="M1486.15,240.95 C1488.36,240.95 1495.45,241 1499.37,240.95 C1503.28,240.91 1506.96,240.91 1509.65,240.66 C1512.34,240.42 1513.56,240.37 1515.52,239.49 C1517.48,238.6 1519.19,238.26 1521.4,235.37 C1523.6,232.49 1526.53,227.79 1528.74,222.16 C1530.94,216.53 1532.9,209.43 1534.61,201.6 C1536.32,193.77 1537.65,184.96 1539.02,175.17 C1540.39,165.38 1541.71,151.92 1542.83,142.86 C1543.96,133.81 1544.79,126.22 1545.77,120.84 C1546.75,115.45 1547.83,112.61 1548.71,110.56 C1549.59,108.5 1550.23,108.4 1551.06,108.5 C1551.89,108.6 1552.77,108.84 1553.7,111.15 C1554.63,113.45 1555.66,118 1556.64,122.31 C1557.62,126.61 1558.45,131.36 1559.57,136.99 C1560.7,142.62 1562.17,150.45 1563.39,156.08 C1564.62,161.71 1565.69,167.34 1566.92,170.76 C1568.14,174.19 1569.51,176.88 1570.73,176.64 C1571.96,176.39 1573.18,172.72 1574.26,169.3 C1575.34,165.87 1576.22,160.24 1577.2,156.08 C1578.17,151.92 1579.01,147.76 1580.13,144.33 C1581.26,140.91 1582.63,137.72 1583.95,135.52 C1585.27,133.32 1586.59,132.34 1588.06,131.12 C1589.53,129.89 1591.49,128.67 1592.76,128.18 C1594.03,127.69 1594.62,127.44 1595.7,128.18 C1596.77,128.91 1598.05,130.14 1599.22,132.58 C1600.4,135.03 1601.67,138.7 1602.75,142.86 C1603.82,147.02 1604.7,151.67 1605.68,157.55 C1606.66,163.42 1607.64,171.01 1608.62,178.11 C1609.6,185.2 1610.43,193.28 1611.56,200.13 C1612.68,206.98 1614,213.84 1615.37,219.22 C1616.74,224.61 1618.07,229.16 1619.78,232.44 C1621.49,235.72 1623.7,237.53 1625.65,238.9 C1627.61,240.27 1629.47,240.32 1631.53,240.66 C1633.58,241 1636.91,240.91 1637.99,240.95 Z" fill="#d7ebd5"/>
<path d="M1486.15,240.95 C1488.36,240.95 1495.45,241 1499.37,240.95 C1503.28,240.91 1506.96,240.91 1509.65,240.66 C1512.34,240.42 1513.56,240.37 1515.52,239.49 C1517.48,238.6 1519.19,238.26 1521.4,235.37 C1523.6,232.49 1526.53,227.79 1528.74,222.16 C1530.94,216.53 1532.9,209.43 1534.61,201.6 C1536.32,193.77 1537.65,184.96 1539.02,175.17 C1540.39,165.38 1541.71,151.92 1542.83,142.86 C1543.96,133.81 1544.79,126.22 1545.77,120.84 C1546.75,115.45 1547.83,112.61 1548.71,110.56 C1549.59,108.5 1550.23,108.4 1551.06,108.5 C1551.89,108.6 1552.77,108.84 1553.7,111.15 C1554.63,113.45 1555.66,118 1556.64,122.31 C1557.62,126.61 1558.45,131.36 1559.57,136.99 C1560.7,142.62 1562.17,150.45 1563.39,156.08 C1564.62,161.71 1565.69,167.34 1566.92,170.76 C1568.14,174.19 1569.51,176.88 1570.73,176.64 C1571.96,176.39 1573.18,172.72 1574.26,169.3 C1575.34,165.87 1576.22,160.24 1577.2,156.08 C1578.17,151.92 1579.01,147.76 1580.13,144.33 C1581.26,140.91 1582.63,137.72 1583.95,135.52 C1585.27,133.32 1586.59,132.34 1588.06,131.12 C1589.53,129.89 1591.49,128.67 1592.76,128.18 C1594.03,127.69 1594.62,127.44 1595.7,128.18 C1596.77,128.91 1598.05,130.14 1599.22,132.58 C1600.4,135.03 1601.67,138.7 1602.75,142.86 C1603.82,147.02 1604.7,151.67 1605.68,157.55 C1606.66,163.42 1607.64,171.01 1608.62,178.11 C1609.6,185.2 1610.43,193.28 1611.56,200.13 C1612.68,206.98 1614,213.84 1615.37,219.22 C1616.74,224.61 1618.07,229.16 1619.78,232.44 C1621.49,235.72 1623.7,237.53 1625.65,238.9 C1627.61,240.27 1629.47,240.32 1631.53,240.66 C1633.58,241 1636.91,240.91 1637.99,240.95" fill="none" stroke="#93cb7b" stroke-width="4.4" stroke-linejoin="round"/>
<path d="M1486.15,240.95 C1488.36,240.95 1495.45,241 1499.37,240.95 C1503.28,240.91 1506.96,240.91 1509.65,240.66 C1512.34,240.42 1513.56,240.37 1515.52,239.49 C1517.48,238.6 1519.19,238.26 1521.4,235.37 C1523.6,232.49 1526.53,227.79 1528.74,222.16 C1530.94,216.53 1532.9,209.43 1534.61,201.6 C1536.32,193.77 1537.65,184.96 1539.02,175.17 C1540.39,165.38 1541.71,151.92 1542.83,142.86 C1543.96,133.81 1544.79,126.22 1545.77,120.84 C1546.75,115.45 1547.83,112.61 1548.71,110.56 C1549.59,108.5 1550.23,108.4 1551.06,108.5 C1551.89,108.6 1552.77,108.84 1553.7,111.15 C1554.63,113.45 1555.66,118 1556.64,122.31 C1557.62,126.61 1558.45,131.36 1559.57,136.99 C1560.7,142.62 1562.17,150.45 1563.39,156.08 C1564.62,161.71 1565.69,167.34 1566.92,170.76 C1568.14,174.19 1569.51,176.88 1570.73,176.64 C1571.96,176.39 1573.18,172.72 1574.26,169.3 C1575.34,165.87 1576.22,160.24 1577.2,156.08 C1578.17,151.92 1579.01,147.76 1580.13,144.33 C1581.26,140.91 1582.63,137.72 1583.95,135.52 C1585.27,133.32 1586.59,132.34 1588.06,131.12 C1589.53,129.89 1591.49,128.67 1592.76,128.18 C1594.03,127.69 1594.62,127.44 1595.7,128.18 C1596.77,128.91 1598.05,130.14 1599.22,132.58 C1600.4,135.03 1601.67,138.7 1602.75,142.86 C1603.82,147.02 1604.7,151.67 1605.68,157.55 C1606.66,163.42 1607.64,171.01 1608.62,178.11 C1609.6,185.2 1610.43,193.28 1611.56,200.13 C1612.68,206.98 1614,213.84 1615.37,219.22 C1616.74,224.61 1618.07,229.16 1619.78,232.44 C1621.49,235.72 1623.7,237.53 1625.65,238.9 C1627.61,240.27 1629.47,240.32 1631.53,240.66 C1633.58,241 1636.91,240.91 1637.99,240.95" fill="none" stroke="#559f39" stroke-width="2.2" stroke-linejoin="round"/>
<text x="1439.5" y="81.5" font-family="'Liberation Sans',sans-serif" font-style="italic" font-size="24.5" fill="#111">p</text>
<text x="1618" y="271" font-family="'DejaVu Sans',sans-serif" font-style="italic" font-weight="bold" font-size="23" fill="#111">g[0]</text>
<line x1="1462" y1="475.5" x2="1462" y2="299" stroke="#000" stroke-width="3.2" /><polygon points="1462,287 1470.5,302 1453.5,302" fill="#000"/><line x1="1460.4" y1="473.9" x2="1680.3" y2="473.9" stroke="#000" stroke-width="3.2" /><polygon points="1692.3,473.9 1677.3,482.4 1677.3,465.4" fill="#000"/>
<path d="M1527.8,473.2 C1530.67,471.67 1539.3,468.03 1545,464 C1550.7,459.97 1556.67,455 1562,449 C1567.33,443 1572.33,436.17 1577,428 C1581.67,419.83 1586.5,408.83 1590,400 C1593.5,391.17 1595.67,382.5 1598,375 C1600.33,367.5 1602.17,360 1604,355 C1605.83,350 1607.17,347.25 1609,345 C1610.83,342.75 1613,341.67 1615,341.5 C1617,341.33 1619.33,341.58 1621,344 C1622.67,346.42 1623.75,349.17 1625,356 C1626.25,362.83 1627.42,374.33 1628.5,385 C1629.58,395.67 1630.58,409.17 1631.5,420 C1632.42,430.83 1633.25,441.13 1634,450 C1634.75,458.87 1635.67,469.33 1636,473.2 Z" fill="#dce8f6" stroke="#4a7fc3" stroke-width="3.9" stroke-linejoin="round"/>
<text x="1437.5" y="323" font-family="'Liberation Sans',sans-serif" font-style="italic" font-size="24.5" fill="#111">p</text>
<text x="1646" y="499" font-family="'DejaVu Sans',sans-serif" font-style="italic" font-weight="bold" font-size="26" fill="#111">z</text>
<line x1="1402.4" y1="415.5" x2="1522.4" y2="415.5" stroke="#4a7fc3" stroke-width="4.2" /><polygon points="1536,415.5 1519,424.5 1519,406.5" fill="#4a7fc3"/>
</g>
</svg>
</body></html>
